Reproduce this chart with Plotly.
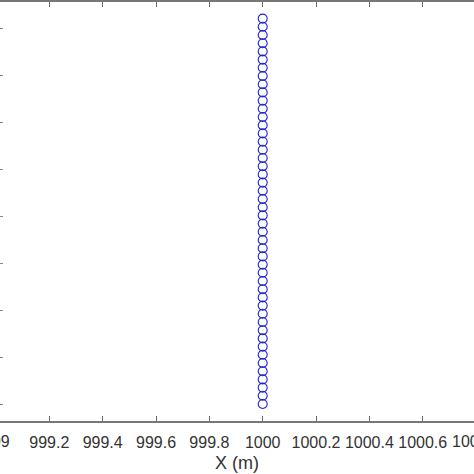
import plotly.graph_objects as go

# data: receiver positions (vertical line at X = 1000 m)
n_points = 48
x_vals = [1000.0] * n_points
y_vals = list(range(n_points))

x_tick_vals = [999.0, 999.2, 999.4, 999.6, 999.8, 1000.0, 1000.2, 1000.4, 1000.6, 1000.8, 1001.0]
x_tick_text = ["999", "999.2", "999.4", "999.6", "999.8", "1000", "1000.2", "1000.4", "1000.6", "1000.8", "1001"]

W, H = 474, 474
ml, mr, mt, mb = 0, 0, 2, 53
# axis pixel mapping (plot extends beyond the visible window, as in the cropped original)
px_per_x = 266.7
x_center_px = 262.7
x0 = 1000 + (0 - x_center_px) / px_per_x
x1 = 1000 + (W - x_center_px) / px_per_x

px_per_y = 8.2
y_first_px = 404
y0 = (y_first_px - (H - mb)) / px_per_y
y1 = (y_first_px - mt) / px_per_y

fig = go.Figure()
fig.add_trace(go.Scatter(
    x=x_vals, y=y_vals, mode="markers",
    marker=dict(symbol="circle-open", size=9, color="#2222d0", line=dict(width=1.1, color="#2222d0")),
    showlegend=False, cliponaxis=False,
))

font = dict(family="Liberation Sans, Arial, sans-serif", color="#333333")

fig.update_layout(
    width=W, height=H,
    margin=dict(l=ml, r=mr, t=mt, b=mb, pad=0),
    paper_bgcolor="white", plot_bgcolor="white",
    font=dict(size=16, **font),
    xaxis=dict(
        range=[x0, x1], tickvals=x_tick_vals, ticktext=x_tick_text,
        ticks="inside", ticklen=5, tickwidth=1, tickcolor="#666666",
        showline=True, linecolor="#777777", linewidth=1.5, mirror="allticks",
        showgrid=False, zeroline=False,
        tickfont=dict(size=16, **font), ticklabelstandoff=6,
        title=dict(text="X (m)", font=dict(size=18, **font), standoff=6),
    ),
    yaxis=dict(
        range=[y0, y1], tick0=0, dtick=46.9 / px_per_y,
        ticks="inside", ticklen=3, tickwidth=1, tickcolor="#888888",
        showline=False, showticklabels=False, showgrid=False, zeroline=False,
    ),
)

# tick labels of the out-of-window ticks, cut by the window edge (as in the reference)
for v, t in zip(x_tick_vals, x_tick_text):
    if v < x0 or v > x1:
        fig.add_annotation(
            x=(v - x0) / (x1 - x0), xref="paper", y=0, yref="paper", yshift=-20, text=t,
            showarrow=False, font=dict(size=16, **font), xanchor="center", yanchor="middle",
        )

fig.write_html(
    "out.html",
    config={"displayModeBar": False},
    post_script="document.body.style.margin='0';document.body.style.overflow='hidden';",
)
